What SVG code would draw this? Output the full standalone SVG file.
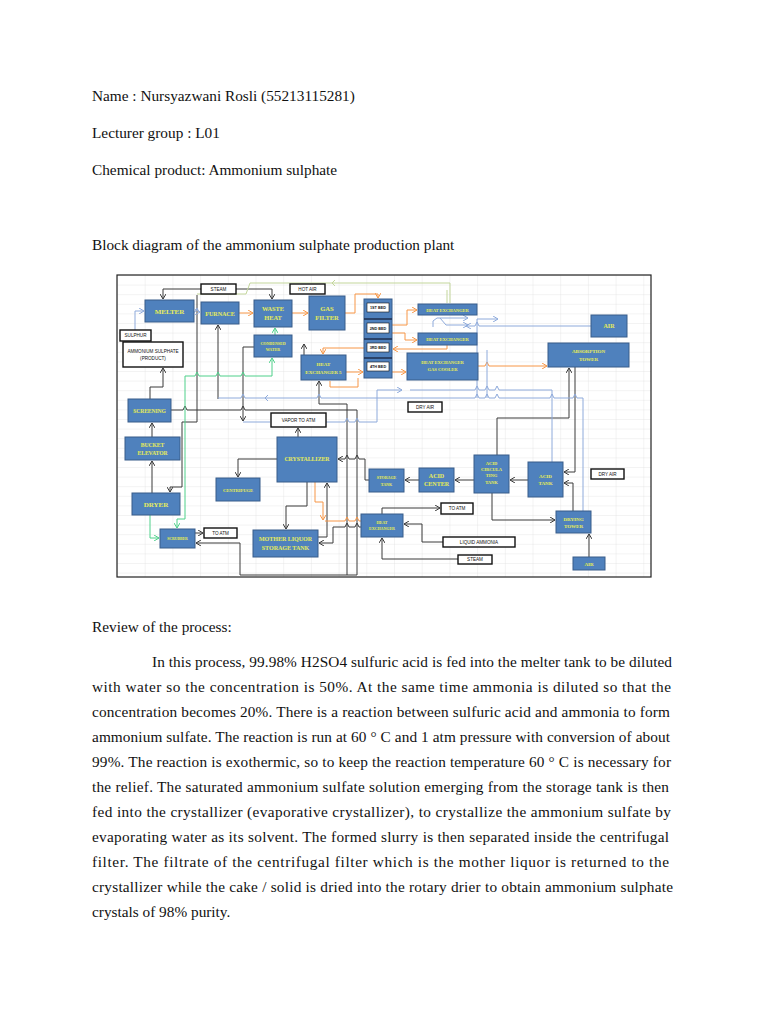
<svg xmlns="http://www.w3.org/2000/svg" width="768" height="1024" viewBox="0 0 768 1024">
<style>
.pg{font-family:"Liberation Serif","Times New Roman",serif;font-size:15.3px;fill:#111}
.n rect{fill:#4f81bd;stroke:#385d8a;stroke-width:1}
.n text{font-family:"Liberation Serif","Times New Roman",serif;font-weight:bold;fill:#f4f46a;stroke:#9bbb59;stroke-width:0.15;text-anchor:middle}
.lb rect{fill:#fff;stroke:#111;stroke-width:1.4}
.lb text{font-family:"Liberation Sans",Arial,sans-serif;fill:#111;text-anchor:middle;font-size:4.6px}
.bed rect{fill:#fff;stroke:#111;stroke-width:0.6}
.bed text{font-family:"Liberation Sans",Arial,sans-serif;font-weight:bold;fill:#111;text-anchor:middle;font-size:3.8px}
.k{fill:none;stroke:#3a3a3a;stroke-width:1}
.o{fill:none;stroke:#f79646;stroke-width:1}
.b{fill:none;stroke:#8eaadb;stroke-width:1}
.g{fill:none;stroke:#4fd08a;stroke-width:1}
.lg{fill:none;stroke:#c3d69b;stroke-width:1}
</style>
<defs>
<marker id="ak" markerWidth="6" markerHeight="6" refX="5" refY="3" orient="auto" markerUnits="userSpaceOnUse"><path d="M0,0 L5,3 L0,6" fill="none" stroke="#3a3a3a" stroke-width="1"/></marker>
<marker id="ao" markerWidth="6" markerHeight="6" refX="5" refY="3" orient="auto" markerUnits="userSpaceOnUse"><path d="M0,0 L5,3 L0,6" fill="none" stroke="#f79646" stroke-width="1"/></marker>
<marker id="ab" markerWidth="6" markerHeight="6" refX="5" refY="3" orient="auto" markerUnits="userSpaceOnUse"><path d="M0,0 L5,3 L0,6" fill="none" stroke="#8eaadb" stroke-width="1"/></marker>
<marker id="ag" markerWidth="6" markerHeight="6" refX="5" refY="3" orient="auto" markerUnits="userSpaceOnUse"><path d="M0,0 L5,3 L0,6" fill="none" stroke="#4fd08a" stroke-width="1"/></marker>
<pattern id="grid" x="117" y="275" width="27.7" height="9.6" patternUnits="userSpaceOnUse"><path d="M0,0 H27.7 M0,0 V9.6" fill="none" stroke="#d6d6d6" stroke-width="0.6"/></pattern>
</defs>
<rect width="768" height="1024" fill="#fff"/>

<g id="header">
<text class="pg" x="92" y="101">Name : Nursyazwani Rosli (55213115281)</text>
<text class="pg" x="92" y="138">Lecturer group : L01</text>
<text class="pg" x="92" y="175">Chemical product: Ammonium sulphate</text>
<text class="pg" x="92" y="250">Block diagram of the ammonium sulphate production plant</text>
</g>

<g id="sheet">
<rect x="117" y="275" width="534" height="302" fill="url(#grid)"/>
</g>

<g id="connectors">
<!-- black -->
<path class="k" d="M201,289 H163 V299" marker-end="url(#ak)"/>
<path class="k" d="M236,289 H272 V299" marker-end="url(#ak)"/>
<path class="k" d="M150,399 V387 H163 V368" marker-end="url(#ak)"/>
<path class="k" d="M152,437 V423" marker-end="url(#ak)"/>
<path class="k" d="M152,493 V461" marker-end="url(#ak)"/>
<path class="k" d="M197,295 V422 H182 V487 H170 V492" marker-end="url(#ak)"/>
<path class="k" d="M218,399 V325" marker-end="url(#ak)"/>
<path class="k" d="M254,347 H243 V421" marker-end="url(#ak)"/>
<path class="k" d="M171,410 H183 l2,-4 l2,4 H241 l2,-4 l2,4 H357 V575 H240 V543 H196" marker-end="url(#ak)"/>
<path class="k" d="M347,575 V404 H319 V381" marker-end="url(#ak)"/>
<path class="k" d="M298,437 V428" marker-end="url(#ak)"/>
<path class="k" d="M277,459 H238 V477" marker-end="url(#ak)"/>
<path class="k" d="M369,480 H365 V459 H359 l-2,-4 l-2,4 H349 l-2,-4 l-2,4 H338" marker-end="url(#ak)"/>
<path class="k" d="M307,482 V506 H286 V529" marker-end="url(#ak)"/>
<path class="k" d="M318,537 H327 V483" marker-end="url(#ak)"/>
<path class="k" d="M361,527 H359 l-2,-4 l-2,4 H349 l-2,-4 l-2,4 H333 V543 H319" marker-end="url(#ak)"/>
<path class="k" d="M195,533 H203" marker-end="url(#ak)"/>
<path class="k" d="M382,514 V508 H440" marker-end="url(#ak)"/>
<path class="k" d="M443,542 H422 V524 H404" marker-end="url(#ak)"/>
<path class="k" d="M458,559 H382 V538" marker-end="url(#ak)"/>
<path class="k" d="M528,480 H510" marker-end="url(#ak)"/>
<path class="k" d="M474,480 H455" marker-end="url(#ak)"/>
<path class="k" d="M419,480 H405" marker-end="url(#ak)"/>
<path class="k" d="M492,493 V520 H555" marker-end="url(#ak)"/>
<path class="k" d="M589,557 V534" marker-end="url(#ak)"/>
<path class="k" d="M573,511 V483 H564" marker-end="url(#ak)"/>
<path class="k" d="M497,455 V418 H569 V368" marker-end="url(#ak)"/>
<path class="k" d="M575,367 V472 H564" marker-end="url(#ak)"/>
<path class="k" d="M304,355 V344" marker-end="url(#ak)"/>
<!-- orange -->
<path class="o" d="M239,313 H253" marker-end="url(#ao)"/>
<path class="o" d="M292,313 H308" marker-end="url(#ao)"/>
<path class="o" d="M345,313 H355 V294 H378 V298" marker-end="url(#ao)"/>
<path class="o" d="M392,325 H407 V310 H417" marker-end="url(#ao)"/>
<path class="o" d="M392,333 H405 V340 H417" marker-end="url(#ao)"/>
<path class="o" d="M447,345 V349 H393" marker-end="url(#ao)"/>
<path class="o" d="M364,348 H323 V354" marker-end="url(#ao)"/>
<path class="o" d="M346,372 H363" marker-end="url(#ao)"/>
<path class="o" d="M392,372 H406" marker-end="url(#ao)"/>
<path class="o" d="M330,381 V387 H358 V378"/>
<path class="o" d="M478,366 H485 l2,-4 l2,4 H547" marker-end="url(#ao)"/>
<path class="o" d="M315,482 V502 H323 V520" marker-end="url(#ao)"/>
<path class="o" d="M361,521 H359 l-2,-4 l-2,4 H349 l-2,-4 l-2,4 H325"/>
<!-- green -->
<path class="g" d="M177,519 H185 V376 H195 l2,-4 l2,4 H216 l2,-4 l2,4 H241 l2,-4 l2,4 H272 V358" marker-end="url(#ag)"/>
<path class="g" d="M177,519 V528" marker-end="url(#ag)"/>
<path class="g" d="M275,335 V328" marker-end="url(#ag)"/>
<path class="g" d="M150,515 V538 H159" marker-end="url(#ag)"/>
<!-- light green -->
<path class="lg" d="M450,303 V283 H250 L246,294 H197"/>
<path class="lg" d="M335,280 l-3,3 l3,3"/>
<path class="lg" d="M447,303 V290"/>
<!-- blue -->
<path class="b" d="M135,330 V311 H144" marker-end="url(#ab)"/>
<path class="b" d="M194,312 H195 l2,-4 l2,4 H200" marker-end="url(#ab)"/>
<path class="b" d="M583,511 V398 H577 l-2,-4 l-2,4 H554 l-2,-4 l-2,4 H499 l-2,-4 l-2,4 H489 l-2,-4 l-2,4 H479 l-2,-4 l-2,4 H321 l-2,-4 l-2,4 H245 l-2,-4 l-2,4 H218"/>
<path class="b" d="M268,395 l-3,3 l3,3"/>
<path class="b" d="M326,422 H345 l2,-4 l2,4 H355 l2,-4 l2,4 H377 V390 H402" marker-end="url(#ab)"/>
<path class="b" d="M552,462 V390 H499 l-2,-4 l-2,4 H489 l-2,-4 l-2,4 H479 l-2,-4 l-2,4 H410"/>
<path class="b" d="M591,326 H479 l-2,-4 l-2,4 H466" marker-end="url(#ab)"/>
<path class="b" d="M477,398 V319 H498" marker-end="url(#ab)"/>
<path class="b" d="M487,398 V350"/>
<path class="b" d="M433,327 V321 L437,318 H468" marker-end="url(#ab)"/>
<path class="b" d="M440,318 L446,325 H468" marker-end="url(#ab)"/>
<path class="b" d="M243,422 H270"/>
</g>

<g id="melter" class="n"><rect x="145" y="300" width="49" height="22"/><text x="169.5" y="313.5" font-size="7">MELTER</text></g>
<g id="furnace" class="n"><rect x="201" y="302" width="38" height="22"/><text x="220" y="315.5" font-size="6">FURNACE</text></g>
<g id="waste-heat" class="n"><rect x="254" y="300" width="38" height="27"/><text x="273" y="311" font-size="6.3">WASTE</text><text x="273" y="319.5" font-size="6.3">HEAT</text></g>
<g id="gas-filter" class="n"><rect x="309" y="296" width="36" height="34"/><text x="327" y="311" font-size="6.5">GAS</text><text x="327" y="320" font-size="6.5">FILTER</text></g>
<g id="condensed-water" class="n"><rect x="254" y="335" width="38" height="22"/><text x="273" y="344.5" font-size="4">CONDENSED</text><text x="273" y="350.5" font-size="4">WATER</text></g>
<g id="converter-beds">
<rect x="364" y="299" width="28" height="79" fill="#4f81bd" stroke="#385d8a"/>
<path d="M364,319 H392 M364,339 H392 M364,358 H392" stroke="#1f2f4f" stroke-width="1.5"/>
<g class="bed">
<rect x="367" y="303" width="22" height="9"/><text x="378" y="309">1ST BED</text>
<rect x="367" y="323" width="22" height="10"/><text x="378" y="329.5">2ND BED</text>
<rect x="367" y="343" width="22" height="9"/><text x="378" y="349">3RD BED</text>
<rect x="367" y="362" width="22" height="9"/><text x="378" y="368">4TH BED</text>
</g>
</g>
<g id="heat-exchanger-1" class="n"><rect x="418" y="304" width="59" height="11"/><text x="447.5" y="311.5" font-size="4.5">HEAT EXCHANGER</text></g>
<g id="heat-exchanger-2" class="n"><rect x="418" y="333" width="59" height="12"/><text x="447.5" y="340.8" font-size="4.5">HEAT EXCHANGER</text></g>
<g id="heat-exchanger-5" class="n"><rect x="301" y="355" width="45" height="25"/><text x="323.5" y="365.5" font-size="5">HEAT</text><text x="323.5" y="374" font-size="5">EXCHANGER 5</text></g>
<g id="gas-cooler" class="n"><rect x="407" y="353" width="71" height="27"/><text x="442.5" y="364" font-size="4.5">HEAT EXCHANGER</text><text x="442.5" y="370.5" font-size="4.5">GAS COOLER</text></g>
<g id="air-top" class="n"><rect x="591" y="315" width="36" height="22"/><text x="609" y="328" font-size="6">AIR</text></g>
<g id="absorption-tower" class="n"><rect x="548" y="343" width="81" height="24"/><text x="588.5" y="353" font-size="5">ABSORPTION</text><text x="588.5" y="361" font-size="5">TOWER</text></g>
<g id="screening" class="n"><rect x="128" y="399" width="43" height="23"/><text x="149.5" y="412.5" font-size="5.5">SCREENING</text></g>
<g id="bucket-elevator" class="n"><rect x="125" y="437" width="55" height="23"/><text x="152.5" y="447" font-size="5.6">BUCKET</text><text x="152.5" y="455" font-size="5.6">ELEVATOR</text></g>
<g id="crystallizer" class="n"><rect x="277" y="437" width="60" height="45"/><text x="307" y="461" font-size="5.8">CRYSTALLIZER</text></g>
<g id="centrifuge" class="n"><rect x="216" y="478" width="44" height="23"/><text x="238" y="491.5" font-size="4.5">CENTRIFUGE</text></g>
<g id="dryer" class="n"><rect x="132" y="493" width="48" height="22"/><text x="156" y="506.5" font-size="7">DRYER</text></g>
<g id="scrubber" class="n"><rect x="160" y="529" width="35" height="19"/><text x="177.5" y="540" font-size="3.8">SCRUBBER</text></g>
<g id="mother-liquor" class="n"><rect x="253" y="530" width="65" height="27"/><text x="285.5" y="541" font-size="6">MOTHER LIQUOR</text><text x="285.5" y="549.5" font-size="6">STORAGE TANK</text></g>
<g id="storage-tank" class="n"><rect x="369" y="469" width="35" height="23"/><text x="386.5" y="479" font-size="4">STORAGE</text><text x="386.5" y="485.5" font-size="4">TANK</text></g>
<g id="acid-center" class="n"><rect x="419" y="468" width="35" height="24"/><text x="436.5" y="478" font-size="6">ACID</text><text x="436.5" y="486" font-size="6">CENTER</text></g>
<g id="acid-circulating-tank" class="n"><rect x="474" y="455" width="35" height="38"/><text x="491.5" y="464.5" font-size="4.5">ACID</text><text x="491.5" y="470.5" font-size="4.5">CIRCULA</text><text x="491.5" y="477" font-size="4.5">TING</text><text x="491.5" y="483.5" font-size="4.5">TANK</text></g>
<g id="acid-tank" class="n"><rect x="528" y="462" width="35" height="35"/><text x="545.5" y="478" font-size="5">ACID</text><text x="545.5" y="485" font-size="5">TANK</text></g>
<g id="drying-tower" class="n"><rect x="556" y="511" width="35" height="22"/><text x="573.5" y="520.5" font-size="5">DRYING</text><text x="573.5" y="527.5" font-size="5">TOWER</text></g>
<g id="air-bottom" class="n"><rect x="573" y="557" width="32" height="13"/><text x="589" y="565.5" font-size="5">AIR</text></g>
<g id="heat-exchanger-lower" class="n"><rect x="361" y="514" width="42" height="23"/><text x="382" y="523.5" font-size="4">HEAT</text><text x="382" y="530" font-size="4">EXCHANGER</text></g>

<g id="label-steam-top" class="lb"><rect x="201" y="284" width="35" height="10"/><text x="218.5" y="290.8">STEAM</text></g>
<g id="label-hot-air" class="lb"><rect x="290" y="284" width="35" height="10"/><text x="307.5" y="290.8">HOT AIR</text></g>
<g id="label-sulphur" class="lb"><rect x="120" y="330" width="31" height="11"/><text x="135.5" y="337.3">SULPHUR</text></g>
<g id="label-product" class="lb"><rect x="123" y="342" width="60" height="25"/><text x="153" y="352.5">AMMONIUM SULPHATE</text><text x="153" y="359.5">(PRODUCT)</text></g>
<g id="label-vapor" class="lb"><rect x="271" y="413" width="55" height="14"/><text x="298.5" y="421.8">VAPOR TO ATM</text></g>
<g id="label-dry-air-mid" class="lb"><rect x="408" y="402" width="34" height="10"/><text x="425" y="408.8">DRY AIR</text></g>
<g id="label-dry-air-right" class="lb"><rect x="591" y="469" width="33" height="10"/><text x="607.5" y="475.8">DRY AIR</text></g>
<g id="label-to-atm-left" class="lb"><rect x="204" y="528" width="33" height="10"/><text x="220.5" y="534.8">TO ATM</text></g>
<g id="label-to-atm-right" class="lb"><rect x="441" y="503" width="32" height="11"/><text x="457" y="510.3">TO ATM</text></g>
<g id="label-liquid-ammonia" class="lb"><rect x="443" y="537" width="72" height="10"/><text x="479" y="543.8">LIQUID AMMONIA</text></g>
<g id="label-steam-bottom" class="lb"><rect x="458" y="555" width="34" height="9"/><text x="475" y="561.3">STEAM</text></g>

<rect x="117" y="275" width="534" height="302" fill="none" stroke="#222" stroke-width="1.2"/>

<g id="review">
<text class="pg" x="92" y="632">Review of the process:</text>
<text class="pg" x="152" y="667" textLength="520" lengthAdjust="spacing">In this process, 99.98% H2SO4 sulfuric acid is fed into the melter tank to be diluted</text>
<text class="pg" x="92" y="692" textLength="579" lengthAdjust="spacing">with water so the concentration is 50%. At the same time ammonia is diluted so that the</text>
<text class="pg" x="92" y="717" textLength="578" lengthAdjust="spacing">concentration becomes 20%. There is a reaction between sulfuric acid and ammonia to form</text>
<text class="pg" x="92" y="742" textLength="578" lengthAdjust="spacing">ammonium sulfate. The reaction is run at 60 ° C and 1 atm pressure with conversion of about</text>
<text class="pg" x="92" y="767" textLength="579" lengthAdjust="spacing">99%. The reaction is exothermic, so to keep the reaction temperature 60 ° C is necessary for</text>
<text class="pg" x="92" y="792" textLength="577" lengthAdjust="spacing">the relief. The saturated ammonium sulfate solution emerging from the storage tank is then</text>
<text class="pg" x="92" y="817" textLength="579" lengthAdjust="spacing">fed into the crystallizer (evaporative crystallizer), to crystallize the ammonium sulfate by</text>
<text class="pg" x="92" y="842" textLength="577" lengthAdjust="spacing">evaporating water as its solvent. The formed slurry is then separated inside the centrifugal</text>
<text class="pg" x="92" y="867" textLength="577" lengthAdjust="spacing">filter. The filtrate of the centrifugal filter which is the mother liquor is returned to the</text>
<text class="pg" x="92" y="892" textLength="581" lengthAdjust="spacing">crystallizer while the cake / solid is dried into the rotary drier to obtain ammonium sulphate</text>
<text class="pg" x="92" y="917">crystals of 98% purity.</text>
</g>
</svg>
